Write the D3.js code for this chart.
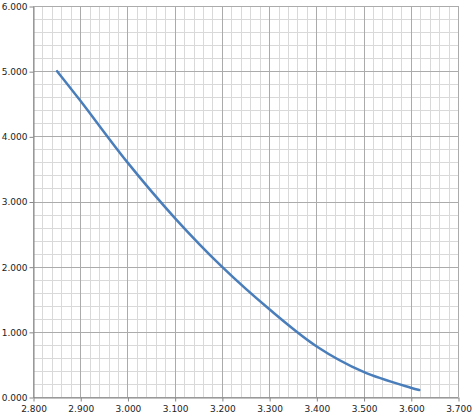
<!DOCTYPE html>
<html><head><meta charset="utf-8">
<script src="https://cdn.jsdelivr.net/npm/d3@7"></script>
<style>body{margin:0;background:#fff}svg{display:block}</style>
</head><body>
<script>
const xValues = [2.851, 2.900, 3.000, 3.100, 3.200, 3.300, 3.400, 3.500, 3.600, 3.618];
const yValues = [5.000, 4.550, 3.600, 2.750, 2.000, 1.350, 0.780, 0.385, 0.143, 0.107];
const xTicks = [2.8, 2.9, 3.0, 3.1, 3.2, 3.3, 3.4, 3.5, 3.6, 3.7];
const yTicks = [0, 1, 2, 3, 4, 5, 6];

const W = 474, H = 419;
const m = {l: 33, r: 16, t: 6, b: 22};
const svg = d3.select("body").append("svg").attr("width", W).attr("height", H);
const x = d3.scaleLinear().domain([2.8, 3.7]).range([m.l, W - m.r]);
const y = d3.scaleLinear().domain([0, 6]).range([H - m.b, m.t]);

const g = svg.append("g");
const xMinor = d3.range(0, 46).map(i => 2.8 + i * 0.02);
const yMinor = d3.range(0, 31).map(i => i * 0.2);
g.selectAll(".vx").data(xMinor).join("line")
  .attr("x1", d => Math.round(x(d)) + 0.5).attr("x2", d => Math.round(x(d)) + 0.5)
  .attr("y1", y(6)).attr("y2", y(0)).attr("stroke", "#d9d9d9").attr("stroke-width", 1);
g.selectAll(".hy").data(yMinor).join("line")
  .attr("y1", d => Math.round(y(d)) + 0.5).attr("y2", d => Math.round(y(d)) + 0.5)
  .attr("x1", x(2.8)).attr("x2", x(3.7)).attr("stroke", "#d9d9d9").attr("stroke-width", 1);
g.selectAll(".mx").data(xTicks).join("line")
  .attr("x1", d => Math.round(x(d)) + 0.5).attr("x2", d => Math.round(x(d)) + 0.5)
  .attr("y1", y(6)).attr("y2", y(0)).attr("stroke", "#ababab").attr("stroke-width", 1);
g.selectAll(".my").data(yTicks).join("line")
  .attr("y1", d => Math.round(y(d)) + 0.5).attr("y2", d => Math.round(y(d)) + 0.5)
  .attr("x1", x(2.8)).attr("x2", x(3.7)).attr("stroke", "#ababab").attr("stroke-width", 1);

const fmt = d3.format(".3f");
const xAxis = svg.append("g").attr("transform", `translate(0.5,${Math.round(y(0)) + 0.5})`)
  .call(d3.axisBottom(x).tickValues(xTicks).tickFormat(fmt).tickSize(4).tickPadding(4).tickSizeOuter(0));
const yAxis = svg.append("g").attr("transform", `translate(${Math.round(x(2.8)) + 0.5},0.5)`)
  .call(d3.axisLeft(y).tickValues(yTicks).tickFormat(fmt).tickSize(4).tickPadding(2).tickSizeOuter(0));
[xAxis, yAxis].forEach(a => {
  a.select(".domain").attr("stroke", "#868686");
  a.selectAll(".tick line").attr("stroke", "#868686");
  a.selectAll("text").attr("font-family", "DejaVu Sans, Verdana, sans-serif")
    .attr("font-size", "9px").attr("fill", "#222");
});

const pts = xValues.map((v, i) => [v, yValues[i]]);
svg.append("path").datum(pts)
  .attr("fill", "none").attr("stroke", "#4a7ebb").attr("stroke-width", 2.5)
  .attr("stroke-linecap", "round")
  .attr("d", d3.line().x(d => x(d[0])).y(d => y(d[1])).curve(d3.curveCatmullRom));
</script>
</body></html>
